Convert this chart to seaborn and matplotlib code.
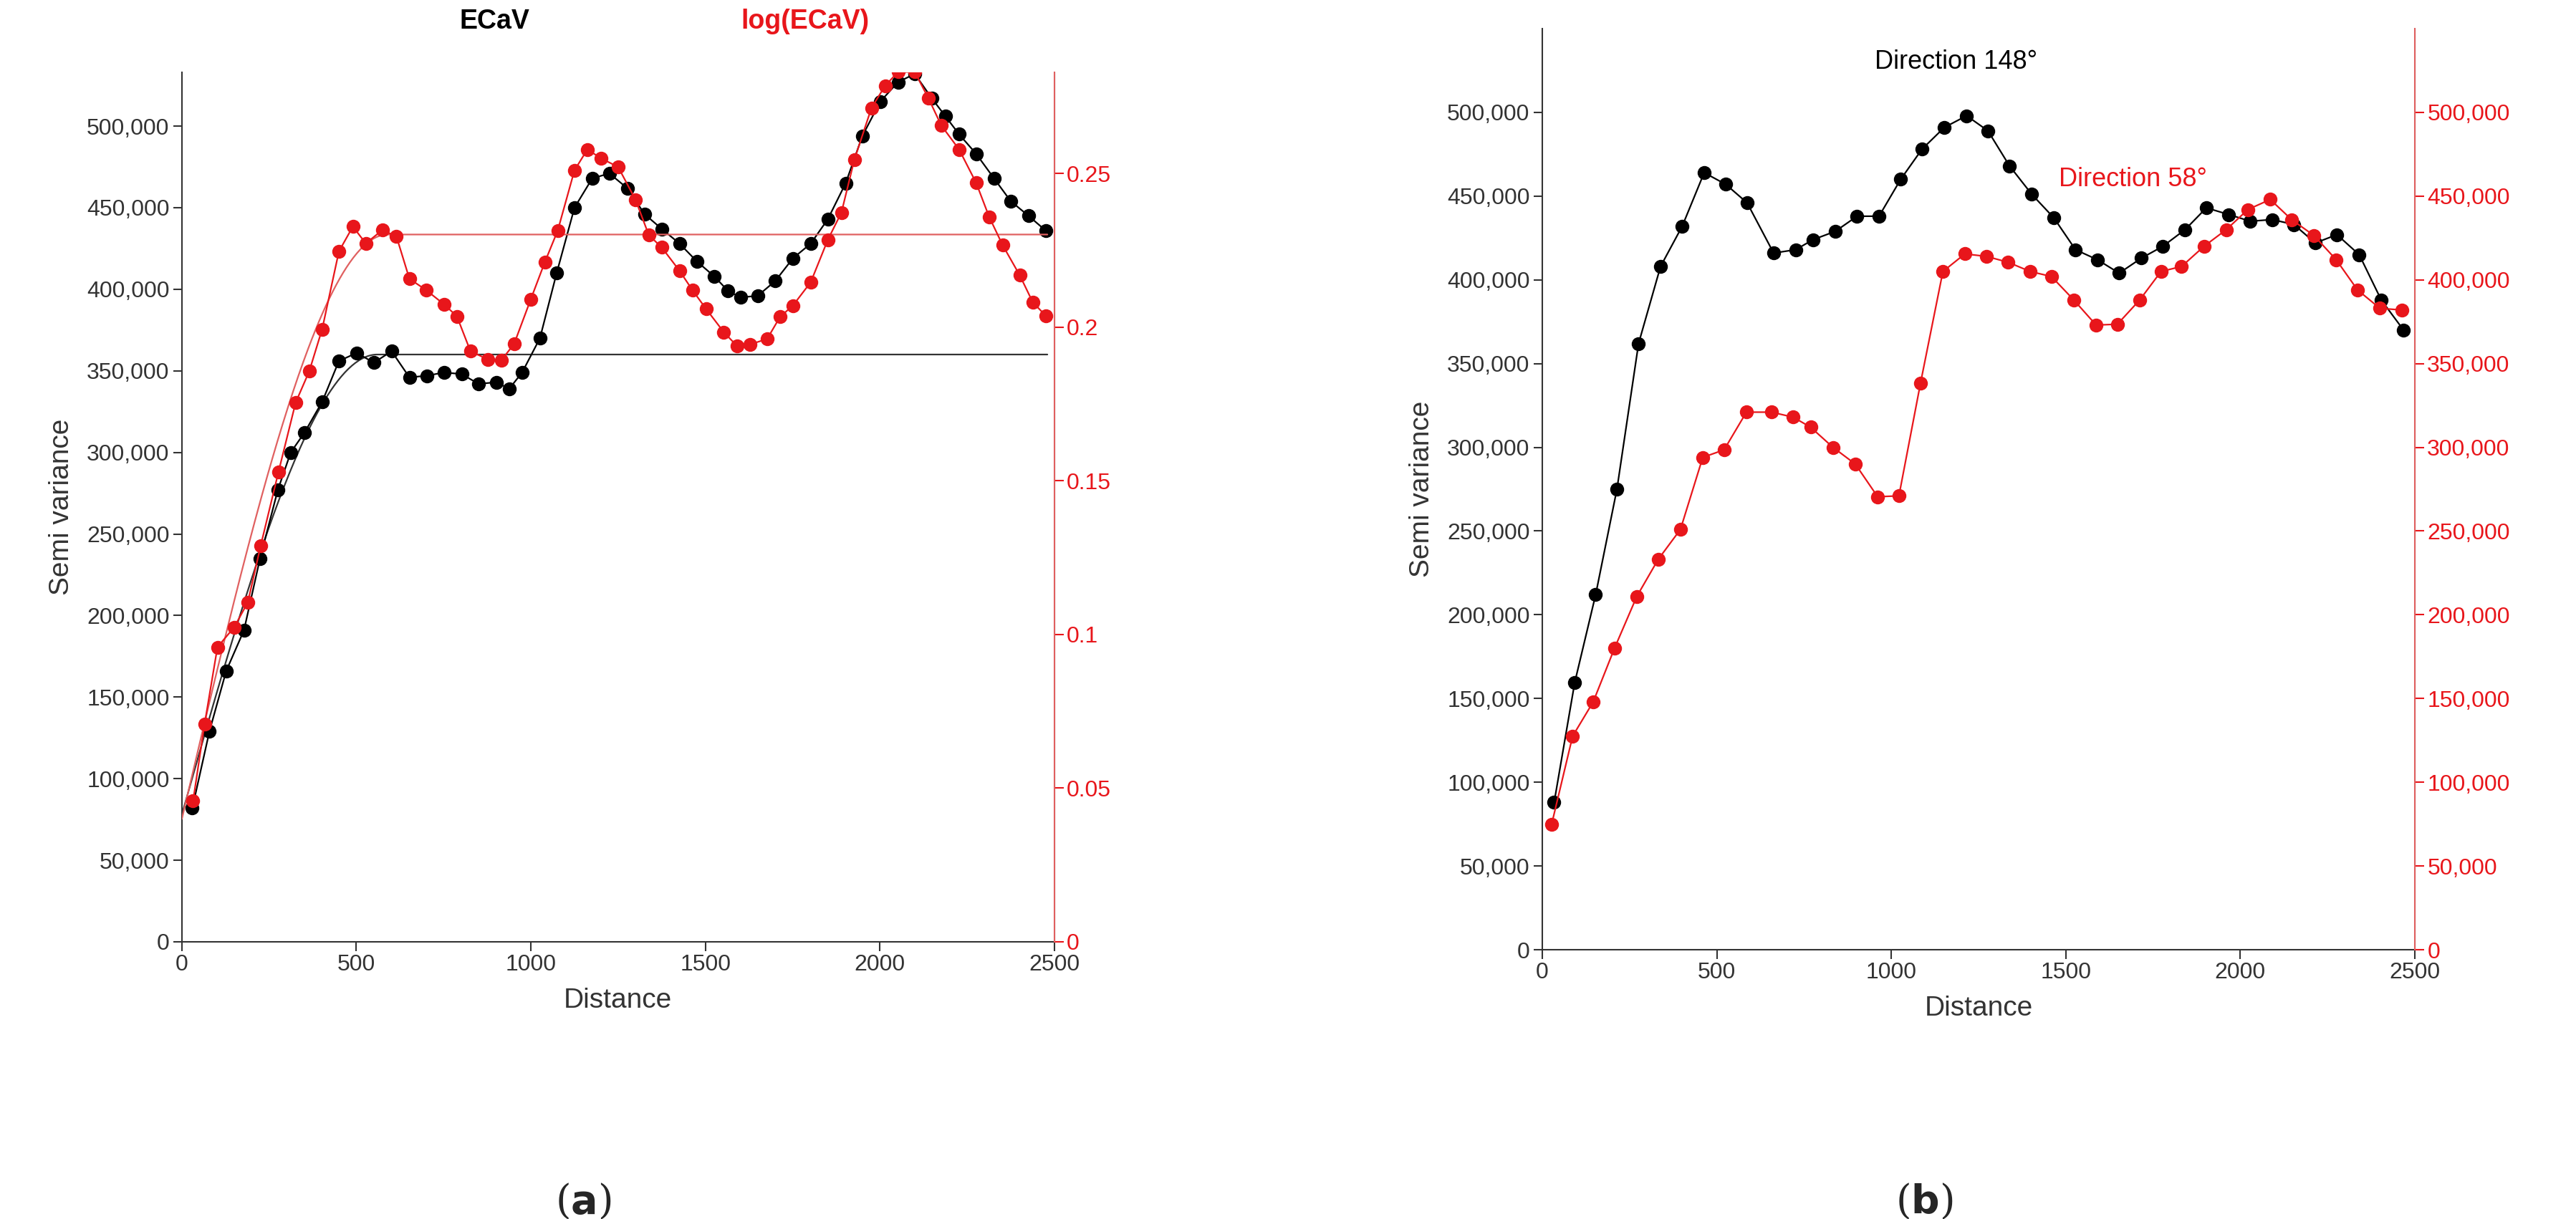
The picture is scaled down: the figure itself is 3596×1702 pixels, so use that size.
import numpy as np
import matplotlib
matplotlib.use("Agg")
import matplotlib.pyplot as plt
import seaborn as sns
from matplotlib.ticker import FuncFormatter

sns.set_style("white")
plt.rcParams['font.family'] = ['Liberation Sans', 'DejaVu Sans']

# ---- Panel (a) data ----
a_black_x = [30,79,127,178,224,275,312,351,402,450,501,550,601,652,702,751,802,850,901,938,975,1026,1074,1125,1176,1225,1276,1326,1375,1426,1476,1525,1565,1601,1650,1700,1751,1802,1851,1902,1950,2001,2052,2100,2149,2188,2227,2276,2327,2375,2426,2475]
a_black_y = [82,129,166,191,235,277,300,312,331,356,361,355,362,346,347,349,348,342,343,339,349,370,410,450,468,471,462,446,437,428,417,408,399,395,396,405,419,428,443,465,494,515,527,532,517,506,495,483,468,454,445,436]
a_red_x = [32,65,102,150,189,226,277,326,365,402,450,490,527,575,615,652,700,751,788,827,876,915,952,1000,1040,1077,1125,1162,1201,1250,1300,1338,1375,1426,1463,1502,1553,1590,1627,1677,1714,1751,1802,1851,1890,1927,1976,2015,2052,2100,2139,2176,2227,2276,2313,2352,2401,2438,2475]
a_red_y = [0.0458,0.0708,0.0959,0.1024,0.1105,0.129,0.153,0.1755,0.1857,0.1994,0.2247,0.2328,0.2273,0.2317,0.2295,0.2158,0.2121,0.2075,0.2036,0.1922,0.1896,0.1892,0.1946,0.2092,0.2212,0.2315,0.2511,0.2579,0.255,0.2522,0.2415,0.23,0.226,0.2184,0.2121,0.206,0.1984,0.194,0.1944,0.1962,0.2034,0.2071,0.2147,0.2285,0.2374,0.2546,0.2714,0.2786,0.2831,0.2831,0.2746,0.2657,0.2579,0.247,0.236,0.2267,0.2169,0.2082,0.2038]
# fitted spherical models: nugget, sill, range
black_model = (78000, 360000, 560)
red_model = (0.040, 0.2302, 590)

# ---- Panel (b) data ----
b_black_x = [34,93,153,214,276,339,401,464,526,587,663,726,776,840,902,965,1027,1088,1152,1216,1277,1339,1403,1466,1528,1591,1653,1717,1778,1842,1903,1967,2029,2092,2154,2215,2277,2341,2404,2468]
b_black_y = [87.9,159.5,212,275,362,408,432,464,457,446,416,418,424,429,438,438,460,478,491,498,489,468,451,437,418,412,404,413,420,430,443,439,435,436,433,422,427,415,388,370]
b_red_x = [27,87,146,207,271,332,396,460,521,585,657,719,769,833,897,961,1022,1084,1148,1211,1273,1335,1398,1459,1523,1587,1648,1712,1773,1832,1896,1960,2022,2086,2147,2211,2275,2336,2400,2463]
b_red_y = [75,127.5,148,180,211,233,251,294,298.5,321,321,318,312,300,290,270.5,271,338.5,405,415.5,414,410.5,405,402,388,373,373.5,388,405,408,420,430,442,448,436,426.5,412,394,383,382]

RED = '#e8161b'
RED_AX = '#e06060'

def spherical(h, c0, sill, a):
    h = np.asarray(h, float)
    r = np.clip(h / a, 0, 1)
    return c0 + (sill - c0) * (1.5 * r - 0.5 * r ** 3)

fig = plt.figure(figsize=(35.96, 17.02), dpi=100)
comma = FuncFormatter(lambda v, p: f"{int(round(v)):,}")
TS = 23
LS = 28

def style_left(ax):
    ax.spines['top'].set_visible(False)
    ax.spines['left'].set_color('#333333')
    ax.spines['bottom'].set_color('#333333')
    ax.spines['left'].set_linewidth(1.5)
    ax.spines['bottom'].set_linewidth(1.5)
    ax.tick_params(axis='both', direction='out', length=9, width=1.5, labelsize=TS, colors='#333333', left=True, bottom=True)
    ax.set_xlim(0, 2500)
    ax.set_xticks(range(0, 2501, 500))
    ax.yaxis.set_major_formatter(comma)
    ax.set_xlabel('Distance', fontsize=LS, color='#333333', labelpad=12)
    ax.set_ylabel('Semi variance', fontsize=LS, color='#333333', labelpad=12)

def style_right(ax2):
    for s in ['top', 'left', 'bottom']:
        ax2.spines[s].set_visible(False)
    ax2.spines['right'].set_color(RED_AX)
    ax2.spines['right'].set_linewidth(1.5)
    ax2.tick_params(axis='y', direction='out', length=9, width=1.5, labelsize=TS, colors=RED, right=True)

# ---- (a) ----
ax = fig.add_axes([0.0706, 0.2274, 0.3387, 0.7133])
hh = np.linspace(0, 2480, 500)
ax.plot(hh, spherical(hh, *black_model), color='#333333', lw=1.6)
sns.lineplot(x=a_black_x, y=np.array(a_black_y) * 1000, ax=ax, color='black', marker='o',
             markersize=14, markeredgewidth=0, lw=1.6)
ax.set_ylim(0, 533000)
ax.set_yticks(range(0, 500001, 50000))
style_left(ax)
ax2 = ax.twinx()
ax2.plot(hh, spherical(hh, *red_model), color=RED_AX, lw=1.6)
sns.lineplot(x=a_red_x, y=a_red_y, ax=ax2, color=RED, marker='o', markersize=14,
             markeredgewidth=0, lw=1.6)
ax2.set_ylim(0, 0.283)
ax2.set_yticks([0, 0.05, 0.1, 0.15, 0.2, 0.25])
ax2.set_yticklabels(['0', '0.05', '0.1', '0.15', '0.2', '0.25'])
ax2.set_xlim(0, 2500)
style_right(ax2)
fig.text(690 / 3596, 1 - 30 / 1702, 'ECaV', fontsize=27, fontweight='bold', color='black', ha='center', va='center')
fig.text(1124 / 3596, 1 - 30 / 1702, 'log(ECaV)', fontsize=27, fontweight='bold', color=RED, ha='center', va='center')

# ---- (b) ----
bx = fig.add_axes([0.5987, 0.2209, 0.3387, 0.7556])
sns.lineplot(x=b_black_x, y=np.array(b_black_y) * 1000, ax=bx, color='black', marker='o',
             markersize=14, markeredgewidth=0, lw=1.6)
bx.set_ylim(0, 550000)
bx.set_yticks(range(0, 500001, 50000))
style_left(bx)
bx.text(1185, 530000, 'Direction 148°', fontsize=26, color='black', ha='center', va='center')
bx2 = bx.twinx()
sns.lineplot(x=b_red_x, y=np.array(b_red_y) * 1000, ax=bx2, color=RED, marker='o', markersize=14,
             markeredgewidth=0, lw=1.6)
bx2.set_ylim(0, 550000)
bx2.set_yticks(range(0, 500001, 50000))
bx2.yaxis.set_major_formatter(comma)
bx2.set_xlim(0, 2500)
style_right(bx2)
bx2.text(1693, 460000, 'Direction 58°', fontsize=26, color=RED, ha='center', va='center')

fig.text(814 / 3596, 1 - 1678 / 1702, r'($\mathbf{a}$)', fontsize=40, family='DejaVu Serif', ha='center', va='center')
fig.text(2686 / 3596, 1 - 1678 / 1702, r'($\mathbf{b}$)', fontsize=40, family='DejaVu Serif', ha='center', va='center')

fig.savefig('out.png', dpi=100, facecolor='white')
